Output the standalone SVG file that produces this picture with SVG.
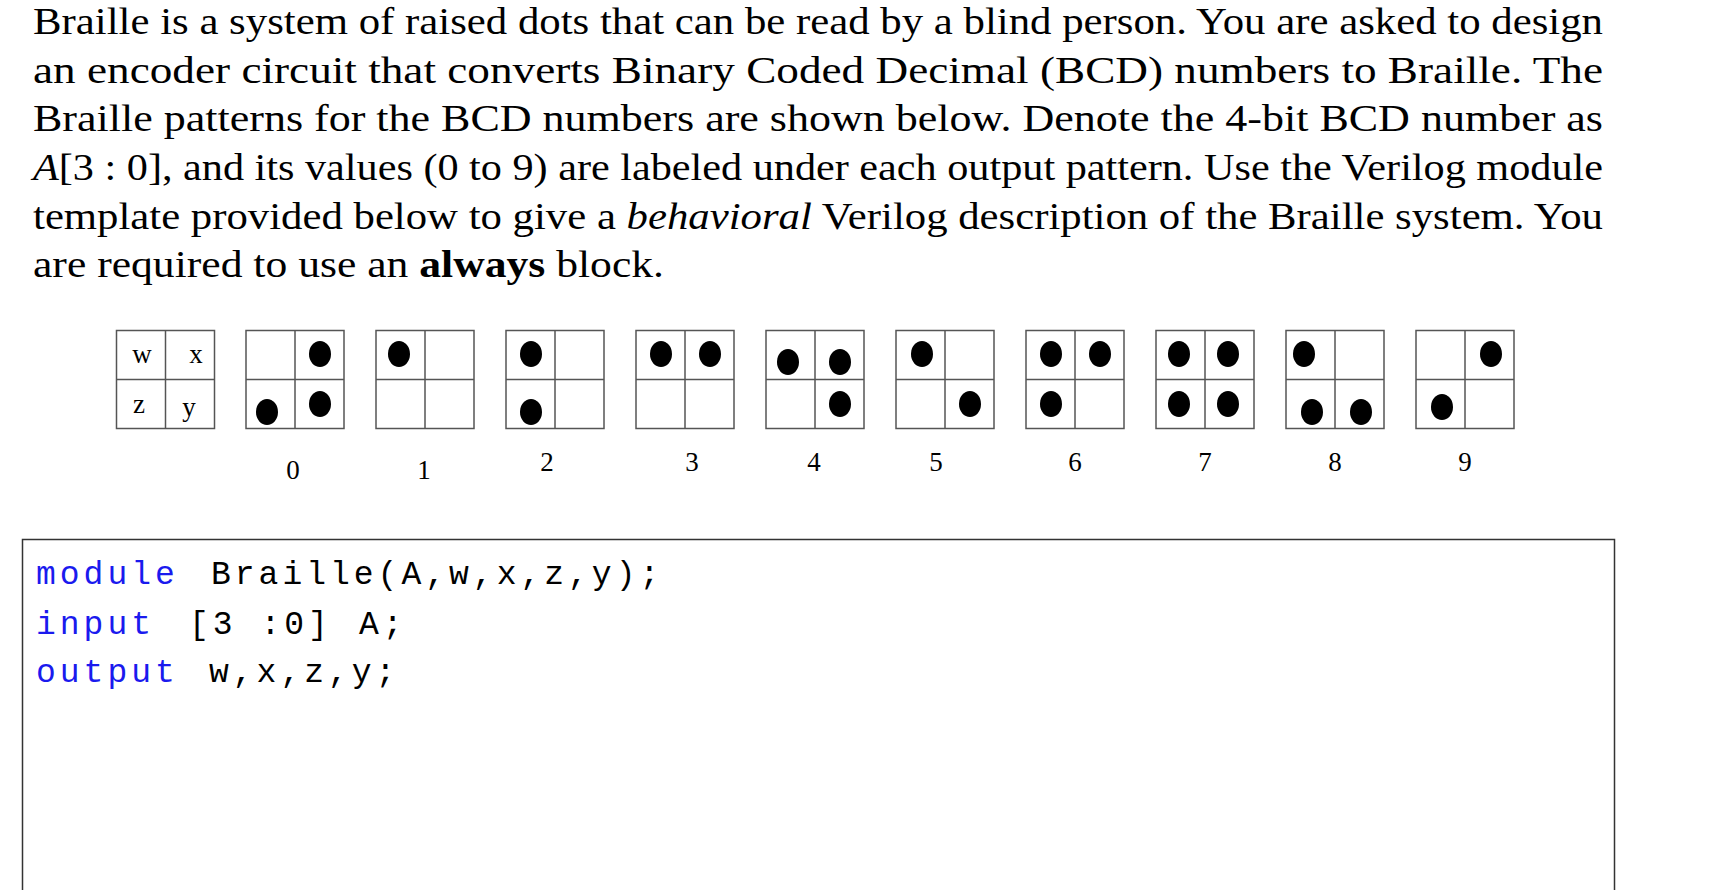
<svg xmlns="http://www.w3.org/2000/svg" width="1713" height="890" viewBox="0 0 1713 890">
<style>
.p{font-family:"Liberation Serif",serif;font-size:38px;fill:#000}
.l{font-family:"Liberation Serif",serif;font-size:27px;fill:#000;text-anchor:middle}
.c{font-family:"Liberation Mono",monospace;font-size:33px;letter-spacing:4px;fill:#000}
.k{fill:#1a1aee}
.b{fill:#fff;stroke:#555;stroke-width:1.5}
.g{stroke:#555;stroke-width:1.5}
.d{fill:#000}
</style>
<rect width="1713" height="890" fill="#fff"/>
<g id="paragraph">
<text class="p" x="33" y="34" textLength="1570" lengthAdjust="spacingAndGlyphs">Braille is a system of raised dots that can be read by a blind person.  You are asked to design</text>
<text class="p" x="33" y="83" textLength="1570" lengthAdjust="spacingAndGlyphs">an encoder circuit that converts Binary Coded Decimal (BCD) numbers to Braille.  The</text>
<text class="p" x="33" y="131" textLength="1570" lengthAdjust="spacingAndGlyphs">Braille patterns for the BCD numbers are shown below.  Denote the 4-bit BCD number as</text>
<text class="p" x="33" y="180" textLength="1570" lengthAdjust="spacingAndGlyphs"><tspan font-style="italic">A</tspan>[3 : 0], and its values (0 to 9) are labeled under each output pattern.  Use the Verilog module</text>
<text class="p" x="33" y="229" textLength="1570" lengthAdjust="spacingAndGlyphs">template provided below to give a <tspan font-style="italic">behavioral</tspan> Verilog description of the Braille system.  You</text>
<text class="p" x="33" y="277" textLength="631" lengthAdjust="spacingAndGlyphs">are required to use an <tspan font-weight="bold">always</tspan> block.</text>
</g>
<g id="legend">
<rect class="b" x="116.5" y="330.5" width="98" height="98"/>
<line class="g" x1="165.5" y1="330.5" x2="165.5" y2="428.5"/>
<line class="g" x1="116.5" y1="379.5" x2="214.5" y2="379.5"/>
<text class="l" x="142" y="363">w</text>
<text class="l" x="196" y="363">x</text>
<text class="l" x="139" y="413">z</text>
<text class="l" x="189" y="416">y</text>
</g>
<defs>
<g id="box">
<rect class="b" x="0" y="0" width="98" height="98"/>
<line class="g" x1="49" y1="0" x2="49" y2="98"/>
<line class="g" x1="0" y1="49" x2="98" y2="49"/>
</g>
</defs>
<g id="p0"><use href="#box" x="246" y="330.5"/><ellipse class="d" cx="320" cy="354" rx="11" ry="13"/><ellipse class="d" cx="267" cy="412" rx="11" ry="13"/><ellipse class="d" cx="320" cy="404" rx="11" ry="13"/><text class="l" x="293" y="479">0</text></g>
<g id="p1"><use href="#box" x="376" y="330.5"/><ellipse class="d" cx="399" cy="354" rx="11" ry="13"/><text class="l" x="424" y="479">1</text></g>
<g id="p2"><use href="#box" x="506" y="330.5"/><ellipse class="d" cx="531" cy="354" rx="11" ry="13"/><ellipse class="d" cx="531" cy="412" rx="11" ry="13"/><text class="l" x="547" y="471">2</text></g>
<g id="p3"><use href="#box" x="636" y="330.5"/><ellipse class="d" cx="661" cy="354" rx="11" ry="13"/><ellipse class="d" cx="710" cy="354" rx="11" ry="13"/><text class="l" x="692" y="471">3</text></g>
<g id="p4"><use href="#box" x="766" y="330.5"/><ellipse class="d" cx="788" cy="362" rx="11" ry="13"/><ellipse class="d" cx="840" cy="362" rx="11" ry="13"/><ellipse class="d" cx="840" cy="404" rx="11" ry="13"/><text class="l" x="814" y="471">4</text></g>
<g id="p5"><use href="#box" x="896" y="330.5"/><ellipse class="d" cx="922" cy="354" rx="11" ry="13"/><ellipse class="d" cx="970" cy="404" rx="11" ry="13"/><text class="l" x="936" y="471">5</text></g>
<g id="p6"><use href="#box" x="1026" y="330.5"/><ellipse class="d" cx="1051" cy="354" rx="11" ry="13"/><ellipse class="d" cx="1100" cy="354" rx="11" ry="13"/><ellipse class="d" cx="1051" cy="404" rx="11" ry="13"/><text class="l" x="1075" y="471">6</text></g>
<g id="p7"><use href="#box" x="1156" y="330.5"/><ellipse class="d" cx="1179" cy="354" rx="11" ry="13"/><ellipse class="d" cx="1228" cy="354" rx="11" ry="13"/><ellipse class="d" cx="1179" cy="404" rx="11" ry="13"/><ellipse class="d" cx="1228" cy="404" rx="11" ry="13"/><text class="l" x="1205" y="471">7</text></g>
<g id="p8"><use href="#box" x="1286" y="330.5"/><ellipse class="d" cx="1304" cy="354" rx="11" ry="13"/><ellipse class="d" cx="1312" cy="412" rx="11" ry="13"/><ellipse class="d" cx="1361" cy="412" rx="11" ry="13"/><text class="l" x="1335" y="471">8</text></g>
<g id="p9"><use href="#box" x="1416" y="330.5"/><ellipse class="d" cx="1491" cy="354" rx="11" ry="13"/><ellipse class="d" cx="1442" cy="407" rx="11" ry="13"/><text class="l" x="1465" y="471">9</text></g>
<g id="code">
<rect x="22.5" y="539.5" width="1592" height="400" fill="none" stroke="#333" stroke-width="1.5"/>
<text class="c" x="36" y="584"><tspan class="k">module</tspan></text>
<text class="c" x="211" y="584">Braille(A,w,x,z,y);</text>
<text class="c" x="36" y="634"><tspan class="k">input</tspan></text>
<text class="c" x="189" y="634">[3 :0]</text>
<text class="c" x="359" y="634">A;</text>
<text class="c" x="36" y="682"><tspan class="k">output</tspan></text>
<text class="c" x="209" y="682">w,x,z,y;</text>
</g>
</svg>
